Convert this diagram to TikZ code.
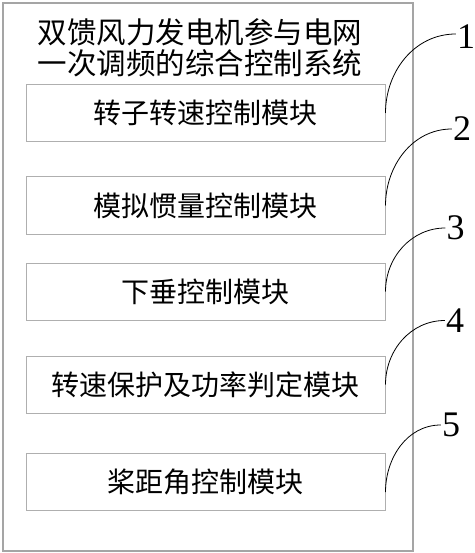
\documentclass[tikz,border=0pt]{standalone}
\usepackage{fontspec}
\newfontfamily\cjk{Noto Sans CJK SC}
\newfontfamily\numfont{Liberation Serif}
\usetikzlibrary{positioning}
\definecolor{framegray}{RGB}{165,165,165}
\definecolor{boxgray}{RGB}{175,175,175}
\tikzset{
  module/.style={draw=boxgray, line width=1pt, minimum width=359pt, minimum height=57pt, inner sep=0pt, font=\cjk\fontsize{28}{30}\selectfont},
  tag/.style={font=\numfont\fontsize{36}{38}\selectfont, inner sep=1pt},
  leader/.style={black, line width=0.8pt},
}
\begin{document}
\begin{tikzpicture}[x=1pt,y=-1pt]
            % Frame to fix the page size:
            \useasboundingbox                                   (0.00, 0.00) rectangle (474.00, 553.00);
            \node[draw=framegray, line width=1.4pt, minimum width=410pt, minimum height=548pt, inner sep=0pt]
                 (sys)     at (208.00, 277.00) {};
            \node[font=\cjk\fontsize{29.5}{31}\selectfont, align=center, inner sep=0pt]
                 (title)   at (200.00,  48.00) {双馈风力发电机参与电网\\一次调频的综合控制系统};
            % Modules:
            \node[module] (rotor)   at (205.50, 113.00) {转子转速控制模块};
            \node[module] (inertia) at (205.50, 205.50) {模拟惯量控制模块};
            \node[module] (droop)   at (205.50, 291.50) {下垂控制模块};
            \node[module] (protect) at (205.50, 384.50) {转速保护及功率判定模块};
            \node[module] (pitch)   at (205.50, 482.00) {桨距角控制模块};
            % Reference numerals:
            \node[tag] (n1) at (466.00,  37.00) {1};
            \node[tag] (n2) at (462.00, 129.00) {2};
            \node[tag] (n3) at (455.50, 228.00) {3};
            \node[tag] (n4) at (455.00, 320.50) {4};
            \node[tag] (n5) at (451.00, 425.00) {5};
            \draw[leader] (rotor.east)                  to[out=90, in=180] ([yshift=3pt]n1.west);
            \draw[leader] (inertia.east)                to[out=90, in=180] (n2.west);
            \draw[leader] (droop.east)                  to[out=90, in=180] (n3.west);
            \draw[leader] (protect.east)                to[out=90, in=180] (n4.west);
            \draw[leader] ([yshift=-10pt]pitch.east)    to[out=90, in=180] (n5.west);
        \end{tikzpicture}
\end{document}
